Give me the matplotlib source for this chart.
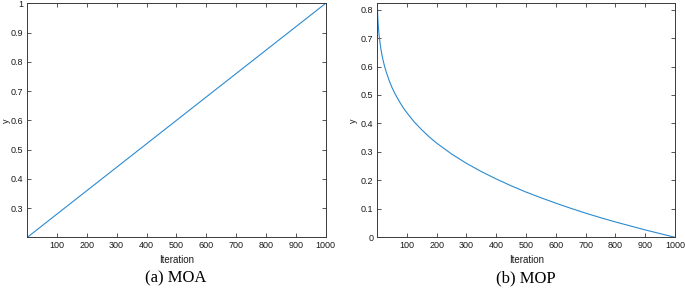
import matplotlib
matplotlib.use("Agg")
import matplotlib.pyplot as plt

# values
iters = [1, 100, 200, 300, 400, 500, 600, 700, 800, 900, 1000]
moa = [0.2008, 0.28, 0.36, 0.44, 0.52, 0.60, 0.68, 0.76, 0.84, 0.92, 1.0]

mop_iters = [1, 2, 3, 4, 5, 7, 10, 13, 16, 20, 25, 30, 40, 50, 60, 75, 90,
             100, 125, 150, 175, 200, 250, 300, 350, 400, 450, 500, 550, 600,
             650, 700, 750, 800, 850, 900, 950, 1000]
mop = [0.822, 0.789, 0.766, 0.749, 0.734, 0.711, 0.684, 0.662, 0.644, 0.624,
       0.602, 0.584, 0.553, 0.527, 0.505, 0.477, 0.452, 0.438, 0.405, 0.378,
       0.353, 0.331, 0.293, 0.260, 0.231, 0.205, 0.181, 0.159, 0.139, 0.120,
       0.102, 0.085, 0.069, 0.054, 0.040, 0.026, 0.013, 0.0]

xticks = [100, 200, 300, 400, 500, 600, 700, 800, 900, 1000]
moa_yticks = [0.3, 0.4, 0.5, 0.6, 0.7, 0.8, 0.9, 1]
mop_yticks = [0, 0.1, 0.2, 0.3, 0.4, 0.5, 0.6, 0.7, 0.8]

line_color = "#2b8ad0"
axis_color = "#3a3a3a"
plt.rcParams["font.family"] = ["Liberation Sans", "DejaVu Sans"]

fig = plt.figure(figsize=(6.85, 2.88), dpi=100)
ax1 = fig.add_axes([0.0399, 0.176, 0.4356, 0.8125])
ax2 = fig.add_axes([0.5508, 0.176, 0.4346, 0.8125])


def style(ax, yticks):
    ax.set_xticks(xticks)
    ax.set_yticks(yticks)
    ax.set_yticklabels([f"{v:g}" for v in yticks])
    ax.tick_params(direction="in", length=3, width=0.6, labelsize=6.5,
                   top=True, right=True, color=axis_color,
                   labelcolor="#1a1a1a", pad=3)
    for s in ax.spines.values():
        s.set_color(axis_color)
        s.set_linewidth(0.7)
    ax.set_xlabel("Iteration", fontsize=7, labelpad=3, color="#1a1a1a")


ax1.plot(iters, moa, color=line_color, lw=0.8)
ax1.set_xlim(min(iters), max(iters))
ax1.set_ylim(min(moa), max(moa))
style(ax1, moa_yticks)

ax2.plot(mop_iters, mop, color=line_color, lw=0.8)
ax2.set_xlim(min(mop_iters), max(mop_iters))
ax2.set_ylim(min(mop), max(mop))
style(ax2, mop_yticks)

# y labels sit tight against the left edge, as in the reference
for xpos in (6.5 / 685, 353 / 685):
    fig.text(xpos, 0.176 + 0.8125 / 2, "y", fontsize=6.5, rotation=90,
             ha="center", va="center", color="#1a1a1a")

fig.text(0.257, 0.018, "(a) MOA", fontsize=12, ha="center",
         family=["Liberation Serif", "DejaVu Serif"])
fig.text(0.768, 0.018, "(b) MOP", fontsize=12, ha="center",
         family=["Liberation Serif", "DejaVu Serif"])

fig.savefig("out.png", dpi=100)
